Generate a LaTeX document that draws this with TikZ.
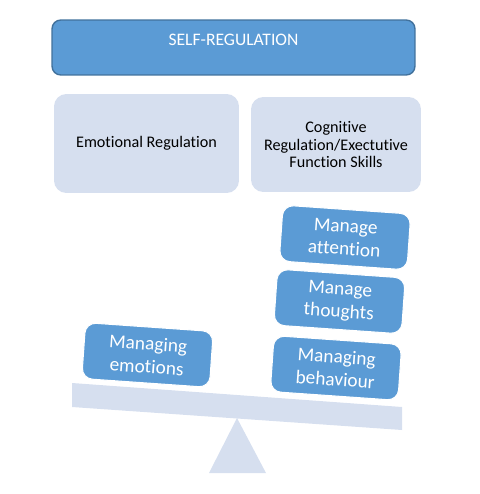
\documentclass[tikz,border=0pt]{standalone}
\usepackage{fontspec}
\setmainfont{Carlito}[Ligatures=CommonOff]
\definecolor{topblue}{HTML}{5B9BD5}
\definecolor{topedge}{HTML}{41719C}
\definecolor{paleblue}{HTML}{D6DFEF}
\begin{document}
\begin{tikzpicture}[x=0.02cm,y=-0.02cm]
	\tikzstyle{headbox}=[draw=topedge,line width=0.8pt,fill=topblue,rounded corners=5pt,text=white,font=\fontsize{10}{12}\selectfont]
	\tikzstyle{areabox}=[fill=paleblue,rounded corners=7pt,align=center,font=\fontsize{9.2}{10.2}\selectfont]
	\tikzstyle{skillbox}=[fill=topblue,draw=white,line width=0.6pt,rounded corners=6pt,text=white,align=center,minimum width=2.56cm,minimum height=1.12cm,rotate=-4,font=\fontsize{11}{13}\selectfont]
	\useasboundingbox (0,0) rectangle (480,494);
	% top
	\node[headbox,minimum width=7.26cm,minimum height=1.1cm,text depth=0.3cm] (selfreg) at (233.5,47.5) {SELF-REGULATION};
	% the two kinds
	\node[areabox,minimum width=3.7cm,minimum height=1.98cm] (emoreg) at (146.5,143.5) {Emotional Regulation};
	\node[areabox,minimum width=3.4cm,minimum height=1.9cm] (cogreg) at (336,144.5) {Cognitive\\Regulation/Exectutive\\Function Skills};
	% seesaw
	\fill[paleblue] (72,383) -- (402,407) -- (402,430) -- (72,407) -- cycle;
	\fill[paleblue] (237,418) -- (266,473) -- (209,473) -- cycle;
	% weights
	\node[skillbox] (emotions) at (147.5,355) {Managing\\emotions};
	\node[skillbox] (behaviour) at (336,368) {Managing\\behaviour};
	\node[skillbox] (thoughts) at (339.5,301.5) {Manage\\thoughts};
	\node[skillbox] (attention) at (345,237.5) {Manage\\attention};
\end{tikzpicture}
\end{document}
